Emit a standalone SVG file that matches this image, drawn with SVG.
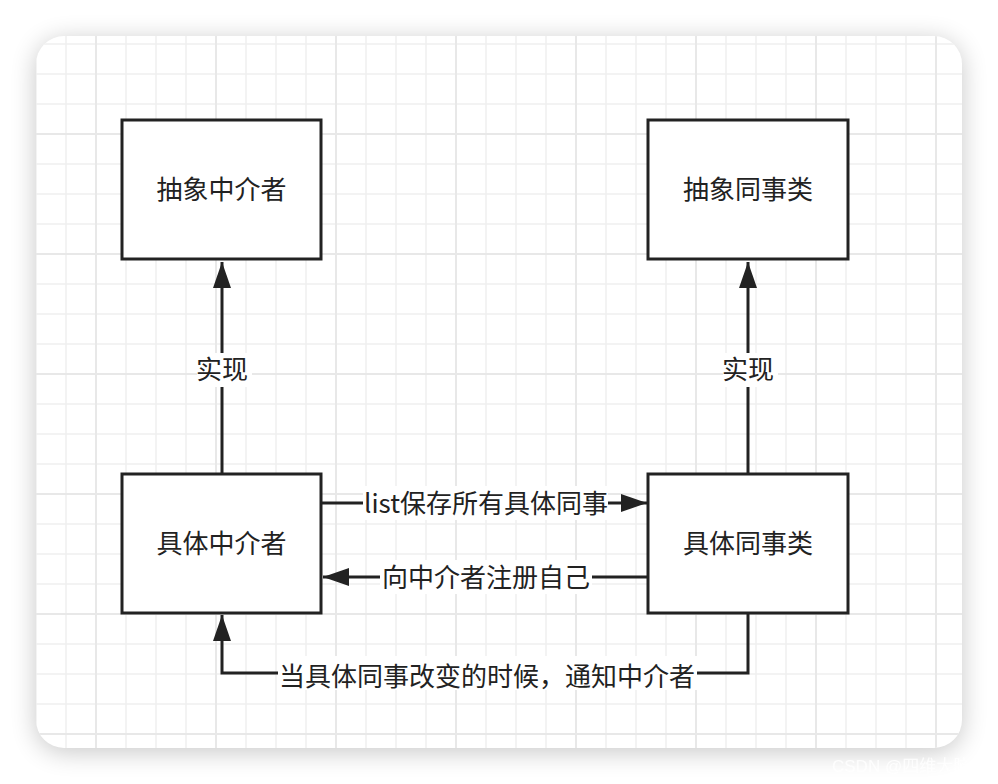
<svg xmlns="http://www.w3.org/2000/svg" width="998" height="784" viewBox="0 0 998 784">
<defs>
<filter id="sh" x="-10%" y="-10%" width="120%" height="120%">
<feGaussianBlur stdDeviation="13"/>
</filter>
<pattern id="grid" x="-24" y="14" width="120" height="120" patternUnits="userSpaceOnUse">
<path d="M0 30H120M0 60H120M0 90H120M30 0V120M60 0V120M90 0V120" stroke="#f0f0f0" stroke-width="1.6" fill="none"/>
<path d="M0 0H120M0 120H120M0 0V120M120 0V120" stroke="#e8e8e8" stroke-width="2" fill="none"/>
</pattern>
<marker id="ah" markerUnits="userSpaceOnUse" markerWidth="28" markerHeight="20" viewBox="0 0 28 20" refX="26" refY="10" orient="auto">
<path d="M0 1 L26 10 L0 19 Z" fill="#222"/>
</marker>
<clipPath id="cardclip"><rect x="36" y="36" width="926" height="712" rx="28"/></clipPath>
</defs>
<style>
.box{fill:#fff;stroke:#222;stroke-width:3}
.t{font-family:"Noto Sans CJK SC","Noto Sans",sans-serif;font-size:26px;fill:#222;text-anchor:middle;dominant-baseline:central}
.e{fill:none;stroke:#222;stroke-width:3}
.bg{fill:#fff}
</style>
<rect width="998" height="784" fill="#fff"/>
<rect x="36" y="40" width="926" height="712" rx="28" fill="#000" opacity="0.22" filter="url(#sh)"/>
<rect x="36" y="36" width="926" height="712" rx="28" fill="#fff"/>
<rect x="36" y="36" width="926" height="712" fill="url(#grid)" clip-path="url(#cardclip)"/>

<g id="edges">
<path class="e" d="M222 474V262" marker-end="url(#ah)"/>
<rect class="bg" x="197" y="353" width="55" height="34"/>
<text class="t" x="222" y="367">实现</text>

<path class="e" d="M748 474V262" marker-end="url(#ah)"/>
<rect class="bg" x="723" y="353" width="55" height="34"/>
<text class="t" x="748" y="367">实现</text>

<path class="e" d="M322 503H647" marker-end="url(#ah)"/>
<rect class="bg" x="363" y="486" width="245" height="34"/>
<text class="t" x="486" y="501">list保存所有具体同事</text>

<path class="e" d="M648 577H323" marker-end="url(#ah)"/>
<rect class="bg" x="380" y="560" width="212" height="34"/>
<text class="t" x="486" y="575">向中介者注册自己</text>

<path class="e" d="M748 613V673H222V615" marker-end="url(#ah)"/>
<rect class="bg" x="278" y="656" width="419" height="34"/>
<text class="t" x="487" y="674">当具体同事改变的时候，通知中介者</text>
</g>

<g id="n1"><rect class="box" x="122" y="120" width="199" height="139"/><text class="t" x="221.5" y="187.5">抽象中介者</text></g>
<g id="n2"><rect class="box" x="648" y="120" width="200" height="139"/><text class="t" x="748" y="187.5">抽象同事类</text></g>
<g id="n3"><rect class="box" x="122" y="474" width="199" height="139"/><text class="t" x="221.5" y="541.5">具体中介者</text></g>
<g id="n4"><rect class="box" x="648" y="474" width="200" height="139"/><text class="t" x="748" y="541.5">具体同事类</text></g>

<text x="832" y="772" font-family="Liberation Sans,'Noto Sans CJK SC',sans-serif" font-size="17" fill="#fff" opacity="0.85">CSDN @四维大脑</text>
</svg>
